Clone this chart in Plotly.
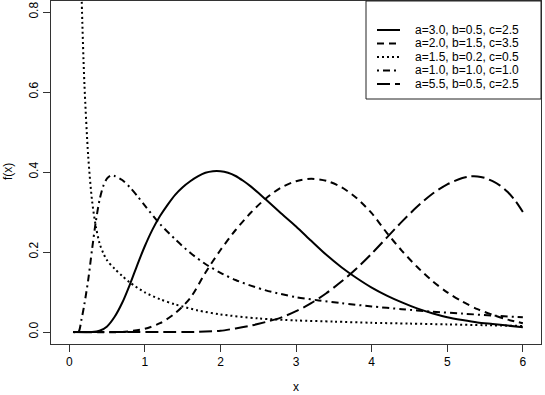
import plotly.graph_objects as go

# ---------------- data ----------------
labels = ["a=3.0, b=0.5, c=2.5", "a=2.0, b=1.5, c=3.5", "a=1.5, b=0.2, c=0.5",
          "a=1.0, b=1.0, c=1.0", "a=5.5, b=0.5, c=2.5"]

# a=3.0, b=0.5, c=2.5 (solid)
x1 = [0.05, 0.30, 0.40, 0.50, 0.60, 0.70, 0.80, 0.90, 1.00, 1.10, 1.20, 1.30, 1.40, 1.50, 1.60, 1.70,
      1.80, 1.90, 2.00, 2.10, 2.20, 2.30, 2.40, 2.50, 2.60, 2.80, 3.00, 3.20, 3.40, 3.60, 3.80, 4.00,
      4.20, 4.40, 4.60, 4.80, 5.00, 5.20, 5.40, 5.60, 5.80, 6.00]
y1 = [0.0, 0.0, 0.003, 0.014, 0.038, 0.073, 0.118, 0.168, 0.215, 0.256, 0.290, 0.318, 0.343, 0.362,
      0.377, 0.389, 0.398, 0.402, 0.402, 0.398, 0.390, 0.378, 0.364, 0.348, 0.331, 0.297, 0.264, 0.228,
      0.193, 0.162, 0.135, 0.111, 0.091, 0.074, 0.059, 0.047, 0.037, 0.030, 0.024, 0.020, 0.016, 0.012]

# a=2.0, b=1.5, c=3.5 (dashed)
x2 = [0.05, 0.70, 0.80, 1.00, 1.20, 1.40, 1.60, 1.80, 2.00, 2.20, 2.40, 2.60, 2.80, 3.00, 3.20, 3.40,
      3.60, 3.80, 4.00, 4.20, 4.40, 4.60, 4.80, 5.00, 5.20, 5.40, 5.60, 5.80, 6.00]
y2 = [0.0, 0.0, 0.002, 0.008, 0.022, 0.047, 0.085, 0.148, 0.205, 0.255, 0.298, 0.334, 0.361, 0.377,
      0.383, 0.378, 0.362, 0.335, 0.297, 0.248, 0.203, 0.163, 0.128, 0.099, 0.076, 0.057, 0.043, 0.031, 0.022]

# a=1.5, b=0.2, c=0.5 (dotted)
x3 = [0.12, 0.14, 0.164, 0.20, 0.25, 0.30, 0.35, 0.40, 0.45, 0.50, 0.60, 0.70, 0.80, 1.00, 1.20, 1.40,
      1.70, 2.00, 2.50, 3.00, 3.50, 4.00, 4.50, 5.00, 5.50, 6.00]
y3 = [1.30, 1.05, 0.83, 0.62, 0.44, 0.33, 0.265, 0.222, 0.197, 0.179, 0.158, 0.140, 0.124, 0.099, 0.082,
      0.069, 0.054, 0.044, 0.034, 0.029, 0.026, 0.023, 0.021, 0.019, 0.017, 0.015]

# a=1.0, b=1.0, c=1.0 (dot-dash)
x4 = [0.05, 0.12, 0.16, 0.20, 0.25, 0.30, 0.35, 0.40, 0.45, 0.50, 0.55, 0.60, 0.70, 0.80, 0.90, 1.00,
      1.20, 1.40, 1.60, 1.80, 2.00, 2.20, 2.40, 2.60, 2.80, 3.00, 3.30, 3.60, 4.00, 4.40, 4.80, 5.20,
      5.60, 6.00]
y4 = [0.0, 0.0, 0.03, 0.07, 0.13, 0.205, 0.275, 0.330, 0.365, 0.384, 0.391, 0.390, 0.380, 0.362, 0.340,
      0.316, 0.270, 0.232, 0.198, 0.170, 0.148, 0.130, 0.116, 0.104, 0.095, 0.087, 0.079, 0.072, 0.064,
      0.057, 0.051, 0.046, 0.041, 0.037]

# a=5.5, b=0.5, c=2.5 (long dash)
x5 = [0.05, 1.60, 1.80, 2.00, 2.20, 2.40, 2.60, 2.80, 3.00, 3.20, 3.40, 3.60, 3.80, 4.00, 4.20, 4.40,
      4.60, 4.80, 5.00, 5.20, 5.30, 5.40, 5.50, 5.60, 5.70, 5.80, 5.90, 6.00]
y5 = [0.0, 0.0, 0.001, 0.003, 0.009, 0.016, 0.025, 0.036, 0.052, 0.072, 0.097, 0.126, 0.159, 0.196,
      0.236, 0.276, 0.313, 0.345, 0.369, 0.385, 0.389, 0.389, 0.385, 0.377, 0.366, 0.350, 0.328, 0.300]

xs = [x1, x2, x3, x4, x5]
ys = [y1, y2, y3, y4, y5]
dashes = ["solid", "7px,5px", "2px,3px", "2px,4px,7px,4px", "13px,5px"]

x_ticks = [0, 1, 2, 3, 4, 5, 6]
y_ticks = [0.0, 0.2, 0.4, 0.6, 0.8]

FONT = "Liberation Sans, Arial, sans-serif"

fig = go.Figure()
for xv, yv, d, lab in zip(xs, ys, dashes, labels):
    fig.add_trace(go.Scatter(x=xv, y=yv, mode="lines", name=lab,
                             line=dict(color="#000000", width=2, dash=d, shape="spline", smoothing=0.8),
                             showlegend=False, hoverinfo="skip"))

# plot area in pixels: x 51..541, y 1..344
L, R, T, B = 51, 4, 1, 51
PH = 395 - T - B

def py2paper(py):
    return (344 - py) / PH

def px2paper(px):
    return (px - 51) / 490

# manual legend (R style box at top right)
shapes = [dict(type="rect", xref="paper", yref="paper",
               x0=px2paper(366), x1=1.0, y0=py2paper(99), y1=1.0,
               line=dict(color="#222222", width=1), fillcolor="white", layer="above")]
annotations = []
for i, (lab, d) in enumerate(zip(labels, dashes)):
    py = 30 + 13.5 * i
    shapes.append(dict(type="line", xref="paper", yref="paper",
                       x0=px2paper(377), x1=px2paper(400), y0=py2paper(py), y1=py2paper(py),
                       line=dict(color="#000000", width=2, dash=d), layer="above"))
    annotations.append(dict(xref="paper", yref="paper", x=px2paper(413), y=py2paper(py),
                            text=lab, showarrow=False, xanchor="left", yanchor="middle",
                            font=dict(family=FONT, size=12, color="#000000")))

# axis titles
annotations.append(dict(xref="x", yref="paper", x=3, y=0, yshift=-43, text="x", showarrow=False,
                        xanchor="center", yanchor="middle", font=dict(family=FONT, size=12, color="#000")))
annotations.append(dict(xref="paper", yref="y", x=0, xshift=-43, y=0.4, text="f(x)", showarrow=False,
                        textangle=-90, xanchor="center", yanchor="middle",
                        font=dict(family=FONT, size=12, color="#000")))

fig.update_layout(
    width=545, height=395,
    margin=dict(l=L, r=R, t=T, b=B, pad=0),
    paper_bgcolor="white", plot_bgcolor="white",
    shapes=shapes, annotations=annotations,
    font=dict(family=FONT, size=12, color="#000000"),
    hovermode=False,
    xaxis=dict(range=[-0.242, 6.24], tickvals=x_ticks, ticktext=[str(v) for v in x_ticks],
               showgrid=False, zeroline=False, showline=True, mirror=True, fixedrange=True,
               linecolor="#333333", linewidth=1, ticks="outside", ticklen=7, tickcolor="#333333",
               tickfont=dict(family=FONT, size=12, color="#000")),
    yaxis=dict(range=[-0.03, 0.8275], tickvals=y_ticks, ticktext=[f"{v:.1f}" for v in y_ticks],
               showgrid=False, zeroline=False, showline=True, mirror=True, fixedrange=True,
               linecolor="#333333", linewidth=1, ticks="outside", ticklen=7, tickcolor="#333333",
               tickangle=-90, tickfont=dict(family=FONT, size=12, color="#000")),
)

fig.write_html("out.html", config={"displayModeBar": False, "staticPlot": True},
               post_script="document.body.style.margin='0px';document.body.style.padding='0px';"
                           "document.documentElement.style.overflow='hidden';")
